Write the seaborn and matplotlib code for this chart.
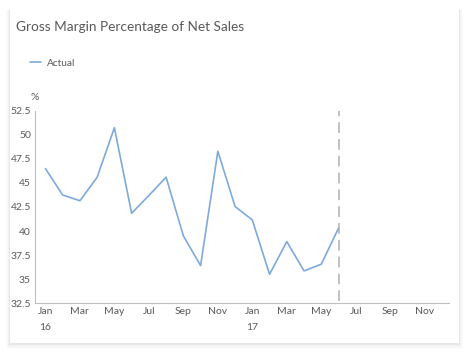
import matplotlib.pyplot as plt
import matplotlib.patches as mpatches
import numpy as np
import pandas as pd
import seaborn as sns

# Daten
months = ["Jan", "Feb", "Mar", "Apr", "May", "Jun", "Jul", "Aug", "Sep", "Oct", "Nov", "Dec",
          "Jan", "Feb", "Mar", "Apr", "May", "Jun"]
years = ["16"] * 12 + ["17"] * 6
actual = [46.5, 43.75, 43.15, 45.6, 50.75, 41.85, 43.7, 45.6, 39.5, 36.4, 48.3, 42.55,
          41.15, 35.5, 38.9, 35.85, 36.55, 40.3]
tick_labels = ["Jan\n16", "Mar", "May", "Jul", "Sep", "Nov",
               "Jan\n17", "Mar", "May", "Jul", "Sep", "Nov"]
y_ticks = [32.5, 35, 37.5, 40, 42.5, 45, 47.5, 50, 52.5]
y_tick_labels = ["32.5", "35", "37.5", "40", "42.5", "45", "47.5", "50", "52.5"]

df = pd.DataFrame({"idx": np.arange(len(actual)), "month": months, "year": years, "Actual": actual})

sns.set_style("white")
plt.rcParams["font.family"] = ["Lato", "DejaVu Sans"]
text_col = "#595959"
line_col = "#7eaadb"

fig = plt.figure(figsize=(4.74, 3.6), dpi=100)
fig.patch.set_facecolor("white")

# Karte mit weichem Schatten
x0, y0, w, h = 0.021, 0.047, 0.947, 0.928
for i, a in enumerate([0.035, 0.025, 0.018, 0.012]):
    d = (i + 1) * 0.0035
    fig.patches.append(mpatches.Rectangle((x0 - d * 0.6, y0 - d * 1.2), w + d * 1.2, h + d * 1.0,
                                          transform=fig.transFigure, facecolor="black",
                                          alpha=a, edgecolor="none", zorder=-3))
fig.patches.append(mpatches.Rectangle((x0, y0), w, h, transform=fig.transFigure,
                                      facecolor="white", edgecolor="none", zorder=-2))

ax = fig.add_axes([0.074, 0.158, 0.873, 0.534])
ax.set_facecolor("none")
ax.set_zorder(2)

sns.lineplot(data=df, x="idx", y="Actual", ax=ax, color=line_col, lw=1.2, label="Actual",
             legend=False)
ax.axvline(len(actual) - 1, color="#b0b0b0", lw=1.1, dashes=(7, 4), ymin=0.01, ymax=1.0)

ax.set_xlim(-0.6, 23.4)
ax.set_ylim(32.5, 52.5)
ax.set_xticks(np.arange(0, 24, 2))
ax.set_xticklabels(tick_labels, color=text_col, fontsize=7.5, linespacing=1.9)
ax.set_yticks(y_ticks)
ax.set_yticklabels(y_tick_labels, color=text_col, fontsize=7.5)
ax.tick_params(axis="both", length=0, pad=3)
for lbl in ax.get_xticklabels():
    lbl.set_verticalalignment("top")
ax.set_xlabel("")
ax.set_ylabel("")
sns.despine(ax=ax)
ax.spines["left"].set_color("#bfbfbf")
ax.spines["bottom"].set_color("#bfbfbf")

fig.text(0.0735, 0.722, "%", color=text_col, fontsize=7.5, ha="center")
fig.text(0.034, 0.925, "Gross Margin Percentage of Net Sales", color=text_col, fontsize=9.8,
         va="center")

leg = fig.legend(handles=[plt.Line2D([], [], color=line_col, lw=1.2)], labels=["Actual"],
                 loc="center left", bbox_to_anchor=(0.045, 0.825), frameon=False, fontsize=7.3,
                 handlelength=1.0, handletextpad=0.6)
for t in leg.get_texts():
    t.set_color(text_col)

plt.savefig("out.png", dpi=100)
